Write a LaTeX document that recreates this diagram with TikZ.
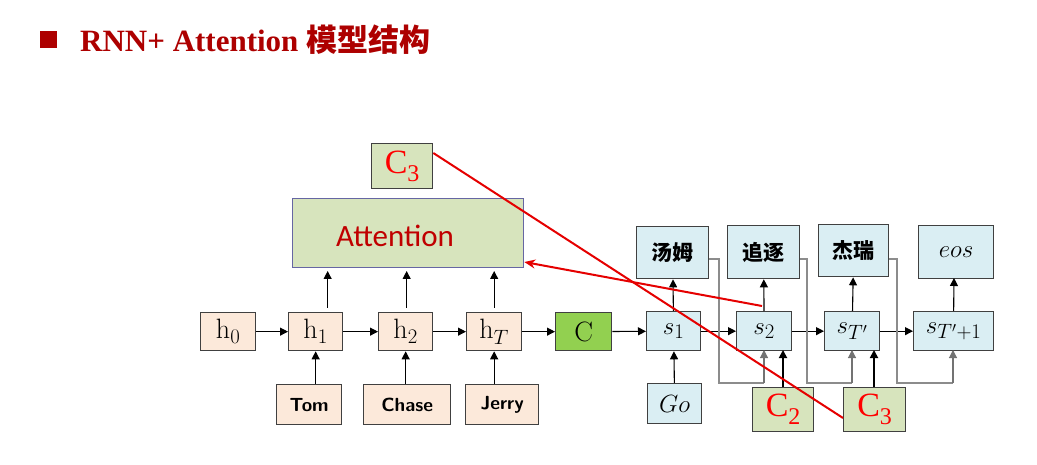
\documentclass[tikz,border=0pt]{standalone}
\usepackage{fontspec}
\newfontfamily\cjk{Noto Sans CJK SC}
\newfontfamily\lser{Liberation Serif}
\newfontfamily\carl{Carlito}
\usetikzlibrary{arrows.meta}
\definecolor{enc}{HTML}{FCE9DA}
\definecolor{dec}{HTML}{DAEEF3}
\definecolor{gbox}{HTML}{D7E4BD}
\definecolor{cgreen}{HTML}{92D050}
\definecolor{dred}{HTML}{C00000}
\begin{document}
\begin{tikzpicture}[x=1pt,y=-1pt,
 bx/.style={draw=black!75,line width=1.3pt,inner sep=0pt,anchor=north west},
 ar/.style={-{Triangle[length=8pt,width=8pt]},line width=1.1pt},
 gr/.style={draw=black!45,line width=1.2pt},
 rl/.style={draw=red!90!black,line width=2pt},
 cj/.style={font=\cjk\bfseries\fontsize{21}{21}\selectfont},
 mt/.style={font=\fontsize{28}{28}\selectfont},
 cl/.style={font=\lser\fontsize{34}{34}\selectfont,text=red},
 sb/.style={font=\fontsize{24}{24}\selectfont}]
\useasboundingbox (0,0) rectangle (1037,465);
\fill[fill=dred!90!black] (40,31) rectangle (57,48);
\node[anchor=west,font=\bfseries\fontsize{31}{31}\selectfont,text=dred!90!black,inner sep=0pt] (title) at (80,40) {\lser RNN+ Attention \cjk 模型结构};
% encoder
\node[bx,fill=enc,minimum width=55pt,minimum height=38pt,mt] (h0) at (200,312) {$\mathrm{h}_0$};
\node[bx,fill=enc,minimum width=54pt,minimum height=38pt,mt] (h1) at (288,312) {$\mathrm{h}_1$};
\node[bx,fill=enc,minimum width=54pt,minimum height=38pt,mt] (h2) at (378,312) {$\mathrm{h}_2$};
\node[bx,fill=enc,minimum width=55pt,minimum height=38pt,mt] (hT) at (466,312) {$\mathrm{h}_T$};
\node[bx,fill=cgreen,minimum width=56pt,minimum height=38pt,mt] (C) at (555,312) {$\mathrm{C}$};
\node[bx,fill=enc,minimum width=65pt,minimum height=40pt,font=\sffamily\bfseries\fontsize{19}{19}\selectfont] (tom) at (276,384) {Tom};
\node[bx,fill=enc,minimum width=87pt,minimum height=40pt,font=\sffamily\bfseries\fontsize{19}{19}\selectfont] (chase) at (363,384) {Chase};
\node[bx,fill=enc,minimum width=73pt,minimum height=40pt,font=\sffamily\bfseries\fontsize{19}{19}\selectfont] (jerry) at (465,384) {Jerry};
\node[bx,fill=gbox,draw=black!60!blue!60,minimum width=231pt,minimum height=69pt] (att) at (292,198) {};
\node[font=\carl\fontsize{31}{31}\selectfont,text=dred] (attl) at (395,236) {Attention};
\node[bx,fill=gbox,minimum width=61pt,minimum height=45pt,cl] (c3t) at (371,143) {C\raisebox{-8pt}{\fontsize{24}{24}\selectfont 3}};
\foreach \a/\b in {h0/h1,h1/h2,h2/hT,hT/C} \draw[ar] (\a) -- (\b);
\foreach \a/\b in {tom/h1,chase/h2,jerry/hT} \draw[ar] (\a.north -| \b) -- (\b);
\draw[ar] ([xshift=12pt]h1.north) ++(0,-4) -- ++(0,-37);
\draw[ar] ([xshift=1pt]h2.north) ++(0,-4) -- ++(0,-37);
\draw[ar] ([xshift=0pt]hT.north) ++(0,-4) -- ++(0,-37);
% decoder
\node[bx,fill=dec,minimum width=54pt,minimum height=39pt,mt] (s1) at (646,311) {$s_1$};
\node[bx,fill=dec,minimum width=55pt,minimum height=39pt,mt] (s2) at (736,311) {$s_2$};
\node[bx,fill=dec,minimum width=55pt,minimum height=39pt,mt] (s3) at (824,311) {$s_{T'}$};
\node[bx,fill=dec,minimum width=80pt,minimum height=39pt,mt] (s4) at (913,311) {$s_{T'+1}$};
\node[bx,fill=dec,minimum width=72pt,minimum height=52pt,cj] (o1) at (636,226) {汤姆};
\node[bx,fill=dec,minimum width=72pt,minimum height=53pt,cj] (o2) at (727,225) {追逐};
\node[bx,fill=dec,minimum width=70pt,minimum height=52pt,cj] (o3) at (818,224) {杰瑞};
\node[bx,fill=dec,minimum width=75pt,minimum height=53pt,mt] (o4) at (918,225) {$eos$};
\node[bx,fill=dec,minimum width=54pt,minimum height=40pt,mt] (go) at (647,383) {$Go$};
\node[bx,fill=gbox,minimum width=61pt,minimum height=44pt,cl] (c2) at (752,387) {C\raisebox{-8pt}{\fontsize{24}{24}\selectfont 2}};
\node[bx,fill=gbox,minimum width=62pt,minimum height=44pt,cl] (c3) at (843,387) {C\raisebox{-8pt}{\fontsize{24}{24}\selectfont 3}};
\draw[ar] (C) -- (s1);
\foreach \a/\b in {s1/s2,s2/s3,s3/s4} \draw[ar] (\a) -- (\b);
\draw[ar] (go) -- (s1);
\draw[ar] (s1) -- (o1);
\draw[ar] (s2) -- (o2);
\draw[ar] (s3) -- (o3);
\draw[ar] (s4.north) -- (954,278);
\draw[gr] (o1.east |- 0,259) -- (719,259) -- (719,383) -- (764,383);
\draw[gr] (o2.east |- 0,259) -- (807,259) -- (807,383) -- (852,383);
\draw[gr] (o3.east |- 0,259) -- (897,259) -- (897,383) -- (953,383);
\draw[ar,draw=black!55] (764,383) -- (764,350);
\draw[ar,draw=black!55] (852,383) -- (852,350);
\draw[ar,draw=black!55] (953,383) -- (953,350);
\draw[ar,line width=1.8pt] (783,387) -- (783,350);
\draw[ar,line width=1.8pt] (874,387) -- (874,350);
% red lines
\draw[rl] (c3t.north east) ++(0,10) -- (843,418);
\draw[rl,-{Stealth[length=11pt,width=9pt]}] (762,306) -- (att.east |- 0,262);
\end{tikzpicture}
\end{document}
